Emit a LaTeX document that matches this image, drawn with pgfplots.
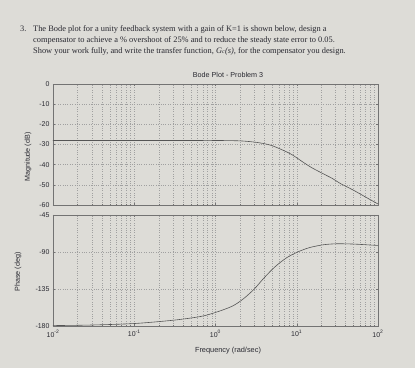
\documentclass[border=0pt]{standalone}
\usepackage{fontspec}
\setmainfont{Liberation Serif}
\setsansfont{Liberation Sans}
\usepackage{pgfplots}
\pgfplotsset{compat=1.18}
\definecolor{paper}{RGB}{221,220,215}
\definecolor{ink}{RGB}{40,40,48}
\definecolor{gridc}{RGB}{160,160,160}
\definecolor{curve}{RGB}{85,85,85}
\definecolor{frame}{RGB}{115,115,115}
\begin{document}
\begin{tikzpicture}[x=1bp,y=1bp]
\fill[paper] (0,0) rectangle (415,368);
\begin{scope}[every node/.style={anchor=base west, inner sep=0pt, text=ink, font=\fontsize{8.4}{10}\selectfont}]
\node at (20,337) {3.};
\node at (33,337) {The Bode plot for a unity feedback system with a gain of K=1 is shown below, design a};
\node at (33,326) {compensator to achieve a \% overshoot of 25\% and to reduce the steady state error to 0.05.};
\node at (33,315) {Show your work fully, and write the transfer function, \textit{G\textsubscript{c}(s)}, for the compensator you design.};
\end{scope}
\node[text=ink, font=\fontsize{7.2}{8}\sffamily] at (228,293) {Bode Plot - Problem 3};
\node[text=ink, rotate=90, font=\fontsize{7.2}{8}\sffamily] at (28,211) {Magnitude (dB)};
\node[text=ink, rotate=90, font=\fontsize{7.2}{8}\sffamily] at (18,96) {Phase (deg)};
\node[text=ink, font=\fontsize{7.4}{8}\sffamily] at (228,17) {Frequency (rad/sec)};

\begin{semilogxaxis}[scale only axis, width=325bp, xmin=0.01, xmax=100,
    axis line style={frame, line width=0.5pt},
    tick style={frame, line width=0.4pt},
    major tick length=2bp, minor tick length=1.2bp,
    xmajorgrids, xminorgrids, ymajorgrids,
    major grid style={gridc, dotted, line width=0.4pt},
    minor grid style={gridc, dotted, line width=0.35pt},
    tick label style={font=\fontsize{7}{8}\sffamily, text=ink},
    /pgf/number format/assume math mode=true,
  at={(53bp,163bp)}, anchor=south west, height=121bp,
  ymin=-60, ymax=0, ytick={-60,-50,-40,-30,-20,-10,0},
  xtick={0.01,0.1,1,10,100}, xticklabels={}]
\addplot[curve, line width=0.6pt, smooth] coordinates {
(0.01,-28) (0.1,-28) (0.5,-28) (1,-28) (2,-28.2) (3,-28.8) (4,-29.6) (4.9,-30.5)
(6.5,-32.5) (8.7,-35) (12,-38.8) (15,-41.3) (20,-44) (27,-46.7) (35,-49.5) (49,-52.5) (70,-56) (100,-59.5)};
\end{semilogxaxis}

\begin{semilogxaxis}[scale only axis, width=325bp, xmin=0.01, xmax=100,
    axis line style={frame, line width=0.5pt},
    tick style={frame, line width=0.4pt},
    major tick length=2bp, minor tick length=1.2bp,
    xmajorgrids, xminorgrids, ymajorgrids,
    major grid style={gridc, dotted, line width=0.4pt},
    minor grid style={gridc, dotted, line width=0.35pt},
    tick label style={font=\fontsize{7}{8}\sffamily, text=ink},
    /pgf/number format/assume math mode=true,
  at={(53bp,42bp)}, anchor=south west, height=111bp,
  ymin=-180, ymax=-45, ytick={-180,-135,-90,-45},
  xtick={0.01,0.1,1,10,100},
  xticklabels={10\textsuperscript{-2},10\textsuperscript{-1},10\textsuperscript{0},10\textsuperscript{1},10\textsuperscript{2}},
  xticklabel style={yshift=-1bp}]
\addplot[curve, line width=0.6pt, smooth] coordinates {
(0.01,-179.5) (0.03,-178.8) (0.1,-177) (0.3,-173) (0.65,-168.5) (1,-163.5) (1.6,-156) (2.2,-147) (3,-135)
(4,-121) (5.4,-108) (7.5,-97) (10,-90.5) (13,-86) (16,-83.5) (22,-81) (31,-80) (45,-80.2) (59,-80.7) (80,-81.5) (100,-82)};
\end{semilogxaxis}
\end{tikzpicture}
\end{document}
